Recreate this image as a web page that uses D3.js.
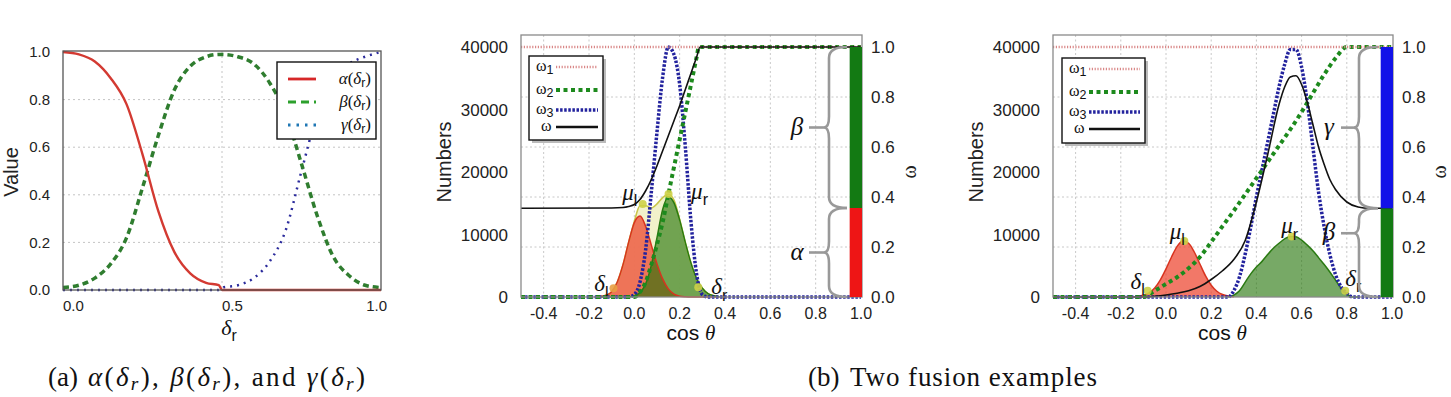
<!DOCTYPE html>
<html><head><meta charset="utf-8">
<script src="https://cdn.jsdelivr.net/npm/d3@7"></script>
<style>body{margin:0;background:#fff}svg{display:block}</style>
</head><body>
<svg id="chart" width="1451" height="397"></svg>
<script>
// ================= DATA =================
// Panel (a): weights as functions of delta_r
const aDelta = [0, 0.05, 0.1, 0.15, 0.2, 0.25, 0.3, 0.35, 0.4, 0.45, 0.49, 0.5, 0.55, 0.6, 0.65, 0.7, 0.75, 0.8, 0.85, 0.9, 0.95, 1.0];
const aAlpha = [1.0, 0.99, 0.96, 0.89, 0.78, 0.57, 0.33, 0.16, 0.07, 0.03, 0.02, 0.0, 0, 0, 0, 0, 0, 0, 0, 0, 0, 0];
const aBeta  = [0.01, 0.02, 0.05, 0.11, 0.22, 0.43, 0.65, 0.84, 0.94, 0.98, 0.99, 0.99, 0.98, 0.95, 0.87, 0.74, 0.53, 0.31, 0.14, 0.06, 0.02, 0.01];
const aGamma = [0, 0, 0, 0, 0, 0, 0, 0, 0, 0, 0, 0.01, 0.02, 0.05, 0.12, 0.25, 0.50, 0.74, 0.88, 0.95, 0.98, 1.0];
const aXTicks = [0, 0.5, 1.0];
const aXTickLabels = ['0.0', '0.5', '1.0'];
const aYTicks = [0, 0.2, 0.4, 0.6, 0.8, 1.0];
const aYTickLabels = ['0.0', '0.2', '0.4', '0.6', '0.8', '1.0'];

// Panels (b): shared ticks
const bXTicks = [-0.4, -0.2, 0.0, 0.2, 0.4, 0.6, 0.8, 1.0];
const bXTickLabels = ['-0.4', '-0.2', '0.0', '0.2', '0.4', '0.6', '0.8', '1.0'];
const bNTicks = [0, 10000, 20000, 30000, 40000];
const bNTickLabels = ['0', '10000', '20000', '30000', '40000'];
const bWTicks = [0, 0.2, 0.4, 0.6, 0.8, 1.0];
const bWTickLabels = ['0.0', '0.2', '0.4', '0.6', '0.8', '1.0'];

// Fusion example 1
const b1BellX  = [-0.175, -0.15, -0.125, -0.1, -0.075, -0.05, -0.025, 0, 0.025, 0.05, 0.075, 0.1, 0.125, 0.15, 0.175, 0.2, 0.225, 0.25, 0.275, 0.3, 0.325, 0.35, 0.375];
const b1Red    = [10, 70, 280, 850, 2400, 5150, 8750, 11900, 12950, 11300, 8300, 5300, 2900, 1300, 450, 120, 30, 0, 0, 0, 0, 0, 0];
const b1Green  = [0, 0, 0, 0, 0, 0, 20, 170, 700, 2100, 5100, 9500, 14000, 16050, 15050, 12300, 8700, 5400, 2900, 1400, 550, 200, 50];
const b1Env    = [10, 70, 280, 850, 2400, 5150, 8770, 12100, 14600, 14600, 14250, 14900, 15900, 16450, 15500, 12420, 8730, 5400, 2900, 1400, 550, 200, 50];
const b1W1X = [-0.5, 1.0];
const b1W1  = [1, 1];
const b1W2X = [-0.5, 0.0, 0.025, 0.05, 0.075, 0.1, 0.125, 0.15, 0.175, 0.2, 0.225, 0.25, 0.275, 0.285, 1.0];
const b1W2  = [0, 0, 0.02, 0.06, 0.13, 0.21, 0.30, 0.41, 0.52, 0.63, 0.74, 0.85, 0.96, 1.0, 1.0];
const b1W3X = [-0.5, -0.025, 0.0, 0.025, 0.05, 0.075, 0.1, 0.125, 0.15, 0.175, 0.2, 0.225, 0.25, 0.275, 0.3, 0.325, 1.0];
const b1W3  = [0, 0, 0.01, 0.06, 0.19, 0.42, 0.66, 0.88, 1.0, 0.97, 0.85, 0.6, 0.3, 0.09, 0.01, 0, 0];
const b1WX  = [-0.5, -0.1, -0.05, -0.025, 0.0, 0.025, 0.05, 0.075, 0.1, 0.125, 0.15, 0.175, 0.2, 0.225, 0.25, 0.275, 0.29, 1.0];
const b1W   = [0.355, 0.356, 0.358, 0.362, 0.37, 0.39, 0.425, 0.47, 0.525, 0.585, 0.645, 0.705, 0.765, 0.83, 0.895, 0.96, 1.0, 1.0];
const b1MarkNames = ['μl', 'μr', 'δl', 'δr'];
const b1MarkX = [0.037, 0.151, -0.092, 0.282];
const b1MarkY = [14880, 16480, 1390, 1550];
const b1WeightNames = ['α', 'β'];
const b1WeightValues = [0.356, 0.644];

// Fusion example 2
const b2RedX  = [-0.15, -0.125, -0.1, -0.075, -0.05, -0.025, 0, 0.025, 0.05, 0.075, 0.1, 0.125, 0.15, 0.175, 0.2, 0.225, 0.25, 0.275, 0.3];
const b2Red   = [30, 95, 270, 665, 1440, 2740, 4490, 6440, 8140, 8950, 8600, 7200, 5280, 3380, 1890, 925, 395, 145, 45];
const b2GreenX = [0.275, 0.3, 0.325, 0.35, 0.375, 0.4, 0.425, 0.45, 0.475, 0.5, 0.525, 0.55, 0.575, 0.6, 0.625, 0.65, 0.675, 0.7, 0.725, 0.75, 0.775, 0.8, 0.825, 0.85];
const b2Green  = [0, 300, 1000, 2350, 3700, 4800, 5700, 6800, 7800, 8600, 9300, 9700, 9650, 9100, 8300, 7400, 6300, 5200, 4000, 2700, 1400, 500, 0, 0];
const b2W1X = [-0.5, 1.0];
const b2W1  = [1, 1];
const b2W2X = [-0.5, -0.1, -0.05, 0.0, 0.05, 0.1, 0.15, 0.2, 0.25, 0.3, 0.35, 0.4, 0.45, 0.5, 0.55, 0.6, 0.65, 0.7, 0.75, 0.8, 1.0];
const b2W2  = [0, 0, 0.025, 0.052, 0.08, 0.115, 0.16, 0.22, 0.283, 0.345, 0.41, 0.475, 0.54, 0.605, 0.67, 0.74, 0.815, 0.89, 0.955, 1.0, 1.0];
const b2W3X = [-0.5, 0.275, 0.3, 0.325, 0.35, 0.375, 0.4, 0.425, 0.45, 0.475, 0.5, 0.525, 0.55, 0.575, 0.6, 0.625, 0.65, 0.675, 0.7, 0.725, 0.75, 0.775, 0.8, 0.825, 1.0];
const b2W3  = [0, 0, 0.025, 0.08, 0.17, 0.28, 0.40, 0.51, 0.62, 0.73, 0.84, 0.93, 0.99, 0.99, 0.92, 0.78, 0.6, 0.42, 0.28, 0.17, 0.09, 0.04, 0.015, 0, 0];
const b2WX  = [-0.5, -0.1, -0.05, 0.0, 0.05, 0.1, 0.15, 0.2, 0.25, 0.3, 0.35, 0.4, 0.45, 0.5, 0.525, 0.55, 0.575, 0.6, 0.625, 0.65, 0.675, 0.7, 0.725, 0.75, 0.8, 0.85, 0.9, 1.0];
const b2W   = [0, 0, 0.003, 0.008, 0.015, 0.025, 0.042, 0.07, 0.105, 0.15, 0.225, 0.38, 0.57, 0.77, 0.84, 0.88, 0.885, 0.85, 0.78, 0.69, 0.6, 0.53, 0.47, 0.43, 0.38, 0.36, 0.355, 0.355];
const b2MarkNames = ['μl', 'μr', 'δl', 'δr'];
const b2MarkX = [0.081, 0.556, -0.081, 0.793];
const b2MarkY = [8970, 9700, 1000, 1000];
const b2WeightNames = ['β', 'γ'];
const b2WeightValues = [0.355, 0.645];

const legendNames = ['ω1', 'ω2', 'ω3', 'ω'];

// ================= STYLE =================
const SANS = "'Liberation Sans', Arial, sans-serif";
const SERIF = "'Liberation Serif', 'Times New Roman', serif";
const weightColor = { 'α': '#ee1515', 'β': '#137a13', 'γ': '#1212e8' };
const lineStyle = {
  'ω1': { stroke: '#d98888', width: 2.5, dash: '1.2,1.6' },
  'ω2': { stroke: '#1d8a1d', width: 4, dash: '4,3.5' },
  'ω3': { stroke: '#23239e', width: 3.5, dash: '2.5,1.6' },
  'ω':  { stroke: '#111', width: 1.6, dash: null }
};

const svg = d3.select('#chart');
svg.append('rect').attr('width', 1451).attr('height', 397).attr('fill', '#fff');

function rich(g, x, y, parts, o) {
  const size = o.size || 16;
  const t = g.append('text').attr('x', x).attr('y', y)
    .attr('text-anchor', o.anchor || 'start')
    .style('font-size', size + 'px').style('font-family', o.family || SERIF)
    .attr('fill', o.fill || '#111');
  if (o.rotate) t.attr('transform', `rotate(${o.rotate},${x},${y})`);
  if (o.len) t.attr('textLength', o.len).attr('lengthAdjust', 'spacing');
  let cur = 0;
  const subShift = o.subShift || 0.28;
  parts.forEach(p => {
    const s = t.append('tspan').text(p.t);
    const shift = p.sub ? size * subShift : 0;
    s.attr('dy', shift - cur); cur = shift;
    if (p.i) s.style('font-style', 'italic');
    if (p.f) s.style('font-family', p.f);
    if (p.sub) s.style('font-size', (size * (p.scale || 0.72)) + 'px');
  });
  return t;
}

// ================= PANEL (a) =================
(function () {
  const g = svg.append('g');
  const xa = d3.scaleLinear([0, 1], [63, 381]);
  const ya = d3.scaleLinear([0, 1], [290, 52]);
  g.selectAll('.hg').data(aYTicks.filter(v => v > 0 && v < 1)).join('line')
    .attr('x1', xa(0)).attr('x2', xa(1)).attr('y1', d => ya(d)).attr('y2', d => ya(d))
    .attr('stroke', '#c4c4c4').attr('stroke-width', 1).attr('stroke-dasharray', '2,3');
  g.selectAll('.vg').data(aXTicks.filter(v => v > 0 && v < 1)).join('line')
    .attr('x1', d => xa(d)).attr('x2', d => xa(d)).attr('y1', 51).attr('y2', ya(0))
    .attr('stroke', '#c4c4c4').attr('stroke-width', 1).attr('stroke-dasharray', '2,3');

  const line = arr => d3.line().x((d, i) => xa(aDelta[i])).y(d => ya(d)).curve(d3.curveMonotoneX)(arr);
  g.append('path').attr('d', line(aGamma)).attr('fill', 'none').attr('stroke', '#2b2b9c')
    .attr('stroke-width', 2.5).attr('stroke-dasharray', '2,5');
  g.append('path').attr('d', line(aBeta)).attr('fill', 'none').attr('stroke', '#2f7d2f')
    .attr('stroke-width', 3.5).attr('stroke-dasharray', '6,4');
  g.append('path').attr('d', line(aAlpha)).attr('fill', 'none').attr('stroke', '#d33a32')
    .attr('stroke-width', 2.4);

  g.append('rect').attr('x', xa(0)).attr('y', 51).attr('width', xa(1) - xa(0)).attr('height', ya(0) - 51)
    .attr('fill', 'none').attr('stroke', '#555').attr('stroke-width', 1.3);

  g.selectAll('.yl').data(aYTicks).join('text')
    .attr('x', 50).attr('y', d => ya(d)).attr('dy', '0.35em').attr('text-anchor', 'end')
    .style('font-family', SANS).style('font-size', '15px').attr('fill', '#222')
    .text((d, i) => aYTickLabels[i]);
  g.selectAll('.xl').data(aXTicks).join('text')
    .attr('x', (d, i) => i < 2 ? xa(d) : xa(d) + 6).attr('y', 311)
    .attr('text-anchor', (d, i) => i < 2 ? 'start' : 'end')
    .style('font-family', SANS).style('font-size', '15px').attr('fill', '#222')
    .text((d, i) => aXTickLabels[i]);

  g.append('text').attr('transform', 'translate(18,172) rotate(-90)').attr('text-anchor', 'middle')
    .style('font-family', SANS).style('font-size', '20px').attr('fill', '#222').text('Value');
  rich(g, 229, 335, [{ t: 'δ', i: true, f: SERIF }, { t: 'r', sub: true, f: SANS }], { size: 22, anchor: 'middle' });

  // legend
  const lg = g.append('g');
  lg.append('rect').attr('x', 277).attr('y', 62).attr('width', 99).attr('height', 77)
    .attr('fill', '#fff').attr('stroke', '#111').attr('stroke-width', 1.4);
  const ent = [
    { n: 'α', c: '#d62728', dash: null, y: 79 },
    { n: 'β', c: '#2ca02c', dash: '8,5', y: 102 },
    { n: 'γ', c: '#1f77b4', dash: '2.5,6', y: 125 }
  ];
  ent.forEach(e => {
    lg.append('line').attr('x1', 288).attr('x2', 316).attr('y1', e.y).attr('y2', e.y)
      .attr('stroke', e.c).attr('stroke-width', 2.8).attr('stroke-dasharray', e.dash);
    rich(lg, 371, e.y + 5, [{ t: e.n, i: true }, { t: '(' }, { t: 'δ', i: true }, { t: 'r', sub: true, f: SANS }, { t: ')' }], { size: 17, anchor: 'end', subShift: 0.2 });
  });
})();

// ================= PANELS (b) =================
function bracePath(xe, xv, xt, yTop, yBot, yTip, r) {
  return `M${xe},${yTop} Q${xv},${yTop} ${xv},${yTop + r} L${xv},${yTip - r} Q${xv},${yTip} ${xt},${yTip} ` +
         `Q${xv},${yTip} ${xv},${yTip + r} L${xv},${yBot - r} Q${xv},${yBot} ${xe},${yBot}`;
}

function fusionPanel(c) {
  const g = svg.append('g');
  const x = d3.scaleLinear([-0.5, 1.0], [c.x0, c.x1]);
  const yN = d3.scaleLinear([0, 40000], [297, 47]);
  const yW = d3.scaleLinear([0, 1], [297, 47]);
  const top = 35;

  // grid
  g.selectAll('.vg').data(bXTicks.filter(v => v < 1)).join('line')
    .attr('x1', d => x(d)).attr('x2', d => x(d)).attr('y1', top).attr('y2', yW(0))
    .attr('stroke', '#c8c8c8').attr('stroke-dasharray', '2,2.5');
  g.selectAll('.hg').data(bWTicks.filter(v => v > 0 && v < 1)).join('line')
    .attr('x1', c.x0).attr('x2', c.x1).attr('y1', d => yW(d)).attr('y2', d => yW(d))
    .attr('stroke', '#c8c8c8').attr('stroke-dasharray', '2,2.5');

  const area = (X, V) => d3.area().x((d, i) => x(X[i])).y0(yN(0)).y1(d => yN(d)).curve(d3.curveMonotoneX)(V);
  const lineN = (X, V) => d3.line().x((d, i) => x(X[i])).y(d => yN(d)).curve(d3.curveMonotoneX)(V);
  const lineW = (X, V) => d3.line().x((d, i) => x(X[i])).y(d => yW(d)).curve(d3.curveMonotoneX)(V);

  if (c.env) g.append('path').attr('d', area(c.envX, c.env)).attr('fill', '#eff0c4').attr('opacity', 0.9);
  g.append('path').attr('d', area(c.redX, c.red)).attr('fill', 'rgb(236,62,40)').attr('fill-opacity', 0.7);
  g.append('path').attr('d', area(c.greenX, c.green)).attr('fill', 'rgb(28,112,0)').attr('fill-opacity', 0.6);
  if (c.env) g.append('path').attr('d', lineN(c.envX, c.env)).attr('fill', 'none').attr('stroke', '#c9c64a').attr('stroke-width', 1.6);
  g.append('path').attr('d', lineN(c.redX, c.red)).attr('fill', 'none').attr('stroke', '#d8331f').attr('stroke-width', 1.5);
  g.append('path').attr('d', lineN(c.greenX, c.green)).attr('fill', 'none').attr('stroke', '#2a7a12').attr('stroke-width', 1.5);

  // weight lines
  const series = [
    { n: 'ω3', X: c.w3X, V: c.w3 },
    { n: 'ω2', X: c.w2X, V: c.w2 },
    { n: 'ω1', X: c.w1X, V: c.w1 },
    { n: 'ω', X: c.wX, V: c.w }
  ];
  series.forEach(s => {
    const st = lineStyle[s.n];
    g.append('path').attr('d', lineW(s.X, s.V)).attr('fill', 'none')
      .attr('stroke', st.stroke).attr('stroke-width', st.width).attr('stroke-dasharray', st.dash);
  });

  // markers + labels
  c.markNames.forEach((name, i) => {
    const px = x(c.markX[i]), py = yN(c.markY[i]);
    g.append('circle').attr('cx', px).attr('cy', py).attr('r', 4)
      .attr('fill', (i === 2 && c.orangeDl) ? '#e8a044' : '#cdd046').attr('opacity', 0.9);
    const off = c.labelOff[i];
    rich(g, px + off[0], py + off[1], [{ t: name[0], i: true }, { t: name[1], sub: true, f: SANS, scale: 0.7 }], { size: 23, anchor: 'middle' });
  });

  // frame
  g.append('rect').attr('x', c.x0).attr('y', top).attr('width', c.x1 - c.x0 + 1).attr('height', yW(0) - top)
    .attr('fill', 'none').attr('stroke', '#8a8a8a').attr('stroke-width', 1.3);

  // colour bar + braces
  const bx0 = x(0.95), bx1 = x(1.0) + 1;
  let acc = 0;
  c.weightNames.forEach((n, i) => {
    const lo = acc, hi = acc + c.weightValues[i];
    acc = hi;
    g.append('rect').attr('x', bx0).attr('y', yW(hi)).attr('width', bx1 - bx0).attr('height', yW(lo) - yW(hi))
      .attr('fill', weightColor[n]);
    const tipY = yW(c.tips[i]);
    g.append('path').attr('d', bracePath(c.xe, c.xv, c.xt, yW(hi), yW(lo), tipY, 11))
      .attr('fill', 'none').attr('stroke', '#999').attr('stroke-width', 2.6);
    g.append('line').attr('x1', c.xl).attr('x2', c.xt).attr('y1', tipY).attr('y2', tipY)
      .attr('stroke', '#999').attr('stroke-width', 2.6);
    g.append('text').attr('x', c.xl - 12).attr('y', tipY + 7).attr('text-anchor', 'middle')
      .style('font-family', SERIF).style('font-style', 'italic').style('font-size', '25px').attr('fill', '#111').text(n);
  });

  // axes labels
  g.selectAll('.yl').data(bNTicks).join('text')
    .attr('x', c.x0 - 13).attr('y', d => yN(d)).attr('dy', '0.36em').attr('text-anchor', 'end')
    .style('font-family', SANS).style('font-size', '17px').attr('fill', '#222').text((d, i) => bNTickLabels[i]);
  g.selectAll('.yr').data(bWTicks).join('text')
    .attr('x', c.x1 + 10).attr('y', d => yW(d)).attr('dy', '0.36em').attr('text-anchor', 'start')
    .style('font-family', SANS).style('font-size', '17px').attr('fill', '#222').text((d, i) => bWTickLabels[i]);
  g.selectAll('.xl').data(bXTicks).join('text')
    .attr('x', d => x(d)).attr('y', 319).attr('text-anchor', 'middle')
    .style('font-family', SANS).style('font-size', '16px').attr('fill', '#222').text((d, i) => bXTickLabels[i]);
  g.append('text').attr('transform', `translate(${c.x0 - 70},162) rotate(-90)`).attr('text-anchor', 'middle')
    .style('font-family', SANS).style('font-size', '20px').attr('fill', '#222').text('Numbers');
  rich(g, x(0.25), 340, [{ t: 'cos ', f: SANS }, { t: 'θ', i: true }], { size: 21, anchor: 'middle' });
  g.append('text').attr('transform', `translate(${c.x1 + c.omegaOff},172) rotate(-90)`).attr('text-anchor', 'middle')
    .style('font-family', SERIF).style('font-size', '20px').attr('fill', '#222').text('ω');

  // legend
  const L = c.legend;
  const lg = g.append('g');
  lg.append('rect').attr('x', L.x + 3).attr('y', L.y + 3).attr('width', L.w).attr('height', L.h).attr('fill', '#bbb');
  lg.append('rect').attr('x', L.x).attr('y', L.y).attr('width', L.w).attr('height', L.h)
    .attr('fill', '#fff').attr('stroke', '#111').attr('stroke-width', 1.4);
  const ys = [11, 34, 54, 71];
  legendNames.forEach((n, i) => {
    const st = lineStyle[n];
    const yy = L.y + ys[i];
    lg.append('line').attr('x1', L.x + 27).attr('x2', L.x + L.w - 5).attr('y1', yy).attr('y2', yy)
      .attr('stroke', st.stroke).attr('stroke-width', n === 'ω' ? 2.6 : st.width).attr('stroke-dasharray', st.dash);
    const parts = [{ t: 'ω' }];
    if (n.length > 1) parts.push({ t: n[1], sub: true, f: SANS, scale: 0.78 });
    rich(lg, L.x + (n.length > 1 ? 7 : 12), yy + 4, parts, { size: 16, subShift: 0.18 });
  });
}

fusionPanel({
  x0: 521, x1: 861, omegaOff: 55,
  envX: b1BellX, env: b1Env,
  redX: b1BellX, red: b1Red, greenX: b1BellX, green: b1Green,
  w1X: b1W1X, w1: b1W1, w2X: b1W2X, w2: b1W2, w3X: b1W3X, w3: b1W3, wX: b1WX, w: b1W,
  markNames: b1MarkNames, markX: b1MarkX, markY: b1MarkY,
  labelOff: [[-13, -4], [31, 5], [-12, 3], [21, 7]], orangeDl: true,
  weightNames: b1WeightNames, weightValues: b1WeightValues,
  tips: [0.178, 0.678],
  xe: 847, xv: 829, xt: 824, xl: 809,
  legend: { x: 529, y: 56, w: 74, h: 84 }
});

fusionPanel({
  x0: 1053, x1: 1392, omegaOff: 54,
  redX: b2RedX, red: b2Red, greenX: b2GreenX, green: b2Green,
  w1X: b2W1X, w1: b2W1, w2X: b2W2X, w2: b2W2, w3X: b2W3X, w3: b2W3, wX: b2WX, w: b2W,
  markNames: b2MarkNames, markX: b2MarkX, markY: b2MarkY,
  labelOff: [[-7, -2], [-2, -3], [-10, -2], [8, -5]], orangeDl: false,
  weightNames: b2WeightNames, weightValues: b2WeightValues,
  tips: [0.255, 0.6775],
  xe: 1378, xv: 1359, xt: 1354, xl: 1341,
  legend: { x: 1062, y: 58, w: 83, h: 85 }
});

// ================= CAPTIONS =================
rich(svg, 48, 386, [{ t: '(a)' }], { size: 27 });
rich(svg, 88, 386, [
  { t: 'α', i: true }, { t: '(' }, { t: 'δ', i: true }, { t: 'r', sub: true, i: true },
  { t: '), ' }, { t: 'β', i: true }, { t: '(' }, { t: 'δ', i: true }, { t: 'r', sub: true, i: true },
  { t: '), and ' }, { t: 'γ', i: true }, { t: '(' }, { t: 'δ', i: true }, { t: 'r', sub: true, i: true }, { t: ')' }
], { size: 27, len: 277, subShift: 0.16 });
rich(svg, 808, 386, [{ t: '(b)' }], { size: 27 });
rich(svg, 850, 386, [{ t: 'Two fusion examples' }], { size: 27, len: 247 });
</script>
</body></html>
